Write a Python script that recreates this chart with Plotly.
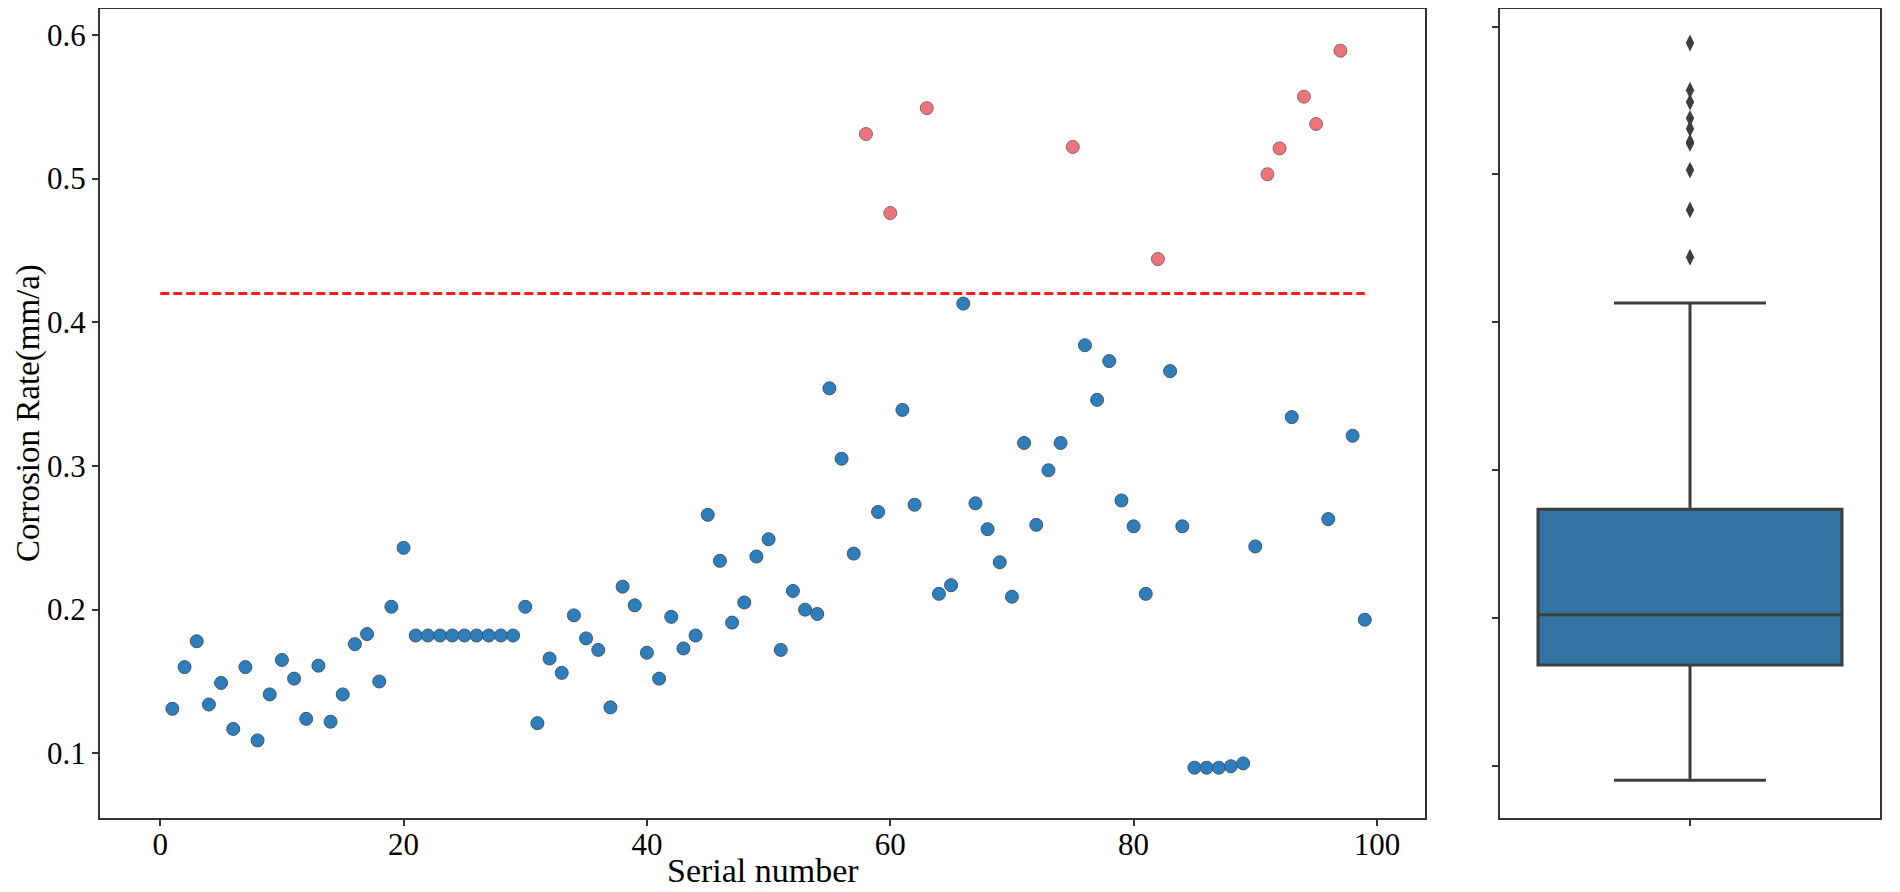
import plotly.graph_objects as go

# corrosion rate per serial number (mm/a)
serial = list(range(1, 100))
rate = [
    0.131, 0.160, 0.178, 0.134, 0.149, 0.117, 0.160, 0.109, 0.141, 0.165,
    0.152, 0.124, 0.161, 0.122, 0.141, 0.176, 0.183, 0.150, 0.202, 0.243,
    0.182, 0.182, 0.182, 0.182, 0.182, 0.182, 0.182, 0.182, 0.182, 0.202,
    0.121, 0.166, 0.156, 0.196, 0.180, 0.172, 0.132, 0.216, 0.203, 0.170,
    0.152, 0.195, 0.173, 0.182, 0.266, 0.234, 0.191, 0.205, 0.237, 0.249,
    0.172, 0.213, 0.200, 0.197, 0.354, 0.305, 0.239, 0.531, 0.268, 0.476,
    0.339, 0.273, 0.549, 0.211, 0.217, 0.413, 0.274, 0.256, 0.233, 0.209,
    0.316, 0.259, 0.297, 0.316, 0.522, 0.384, 0.346, 0.373, 0.276, 0.258,
    0.211, 0.444, 0.366, 0.258, 0.090, 0.090, 0.090, 0.091, 0.093, 0.244,
    0.503, 0.521, 0.334, 0.557, 0.538, 0.263, 0.589, 0.321, 0.193,
]
threshold = 0.42
threshold_x = [0, 99]
y_ticks = [0.1, 0.2, 0.3, 0.4, 0.5, 0.6]
x_ticks = [0, 20, 40, 60, 80, 100]

FONT = "Liberation Serif"
# the page body keeps its default 8px margin, so the figure is 16px smaller
# than the 1900x892 window and every position below is 8px up/left
W, H = 1892, 884

# plot areas in figure pixels (left, right, top, bottom)
left_px = (92, 1417, 1, 810)
right_px = (1492, 1872, 1, 810)


def xdom(p):
    return [p[0] / W, p[1] / W]


def ydom(p):
    return [1 - p[3] / H, 1 - p[2] / H]


normal = [(s, r) for s, r in zip(serial, rate) if r <= threshold]
high = [(s, r) for s, r in zip(serial, rate) if r > threshold]

fig = go.Figure()

fig.add_trace(go.Scatter(
    x=[s for s, _ in normal], y=[r for _, r in normal],
    mode="markers",
    marker=dict(size=13, color="#2f7ebc", line=dict(color="#3b5670", width=1)),
    xaxis="x", yaxis="y", showlegend=False,
))
fig.add_trace(go.Scatter(
    x=[s for s, _ in high], y=[r for _, r in high],
    mode="markers",
    marker=dict(size=13, color="#f0737b", line=dict(color="#7d6a6a", width=1)),
    xaxis="x", yaxis="y", showlegend=False,
))
fig.add_trace(go.Scatter(
    x=threshold_x, y=[threshold, threshold],
    mode="lines",
    line=dict(color="#ff1a1a", width=3, dash="9px,4px"),
    xaxis="x", yaxis="y", showlegend=False,
))

fig.add_trace(go.Box(
    y=rate, x0=0,
    width=0.8, whiskerwidth=0.5,
    quartilemethod="inclusive",
    boxpoints="outliers",
    fillcolor="#3274a1",
    line=dict(color="#3d3d3d", width=3),
    marker=dict(symbol="diamond-tall", size=12, color="#3d3d3d",
                line=dict(width=0)),
    xaxis="x2", yaxis="y2", showlegend=False,
))

axis_common = dict(
    showline=True, linecolor="#333333", linewidth=2, mirror=True,
    ticks="outside", ticklen=6, tickwidth=1.5, tickcolor="#333333",
    showgrid=False, zeroline=False, automargin=False,
    tickfont=dict(family=FONT, size=31, color="black"),
)

fig.update_layout(
    width=W, height=H,
    margin=dict(l=0, r=0, t=0, b=0),
    plot_bgcolor="white", paper_bgcolor="white",
    xaxis=dict(domain=xdom(left_px), range=[-4.95, 103.95],
               tickvals=x_ticks, ticklabelstandoff=-8, anchor="y", **axis_common),
    yaxis=dict(domain=ydom(left_px), range=[0.055, 0.618],
               tickvals=y_ticks, anchor="x", **axis_common),
    xaxis2=dict(domain=xdom(right_px), range=[-0.5, 0.5],
                tickvals=[0], ticktext=[""], anchor="y2", **axis_common),
    yaxis2=dict(domain=ydom(right_px), range=[0.0645, 0.612],
                tickvals=y_ticks, ticktext=[""] * len(y_ticks),
                anchor="x2", **axis_common),
    annotations=[
        dict(text="Serial number", xref="paper", yref="paper",
             x=(left_px[0] + left_px[1]) / 2 / W, y=0, yshift=1,
             xanchor="center", yanchor="bottom",
             showarrow=False, font=dict(family=FONT, size=34, color="black")),
        dict(text="Corrosion Rate(mm/a)", xref="paper", yref="paper",
             x=0, y=1 - (left_px[2] + left_px[3]) / 2 / H,
             xanchor="left", yanchor="middle",
             textangle=-90, showarrow=False,
             font=dict(family=FONT, size=33, color="black")),
    ],
)

fig.write_html("out.html")
